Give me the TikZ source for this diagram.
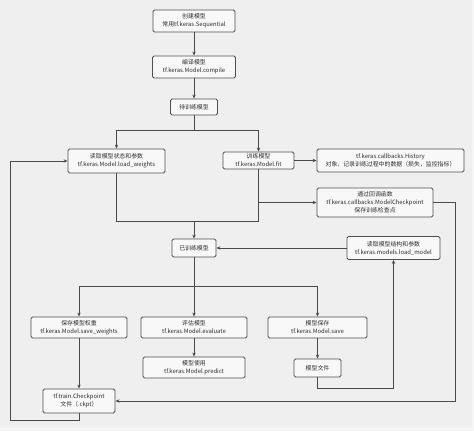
\documentclass[tikz,border=0pt]{standalone}
\usepackage{fontspec}
\newfontfamily\cjk{Noto Sans CJK SC}
\usetikzlibrary{arrows.meta,calc}
\definecolor{bgc}{HTML}{EFEFEF}
\definecolor{outc}{HTML}{F6F6F6}
\definecolor{boxfill}{HTML}{F8F8F8}
\definecolor{boxline}{HTML}{505050}
\definecolor{linec}{HTML}{4A4A4A}
\definecolor{txtc}{HTML}{2E2E2E}
\tikzset{
  flowbox/.style={draw=boxline, fill=boxfill, rounded corners=1.5pt, line width=0.85pt,
    inner sep=0pt, align=center, text=txtc, font=\cjk\fontsize{5.9}{8}\selectfont},
  conn/.style={draw=linec, line width=0.85pt},
  arr/.style={conn, -{Stealth[length=4pt,width=3.4pt]}}
}
\begin{document}
\begin{tikzpicture}[x=1pt,y=-1pt]
\fill[outc] (0,0) rectangle (474,431);
\fill[bgc] (0,0) rectangle (472,428);
\useasboundingbox (0,0) rectangle (474,431);

\node[flowbox, minimum width=82pt, minimum height=22pt] (n1) at (194,21) {创建模型\\常用tf.keras.Sequential};
\node[flowbox, minimum width=83pt, minimum height=22pt] (n2) at (194,67) {编译模型\\tf.keras.Model.compile};
\node[flowbox, minimum width=47pt, minimum height=16pt] (n3) at (194,107) {待训练模型};
\node[flowbox, minimum width=97pt, minimum height=24pt] (n4) at (116.5,161) {读取模型状态和参数\\tf.keras.Model.load\_weights};
\node[flowbox, minimum width=71pt, minimum height=17pt] (n5) at (258.5,160.5) {训练模型\\tf.keras.Model.fit};
\node[flowbox, minimum width=147pt, minimum height=23pt] (n6) at (390.5,160.5) {tf.keras.callbacks.History\\对象，记录训练过程中的数据（损失，监控指标）};
\node[flowbox, minimum width=116pt, minimum height=29pt] (n7) at (375,202.5) {通过回调函数\\tf.keras.callbacks.ModelCheckpoint\\保存训练检查点};
\node[flowbox, minimum width=44pt, minimum height=18pt] (n8) at (194,248) {已训练模型};
\node[flowbox, minimum width=93pt, minimum height=23pt] (n9) at (393.5,248) {读取模型结构和参数\\tf.keras.models.load\_model};
\node[flowbox, minimum width=96pt, minimum height=21pt] (n10) at (79,327.5) {保存模型权重\\tf.keras.Model.save\_weights};
\node[flowbox, minimum width=106pt, minimum height=21pt] (n11) at (194,327.5) {评估模型\\tf.keras.Model.evaluate};
\node[flowbox, minimum width=99pt, minimum height=21pt] (n12) at (317.5,327.5) {模型保存\\tf.keras.Model.save};
\node[flowbox, minimum width=102pt, minimum height=21pt] (n13) at (194,367.5) {模型使用\\tf.keras.Model.predict};
\node[flowbox, minimum width=47pt, minimum height=18pt] (n14) at (317.5,368) {模型文件};
\node[flowbox, minimum width=72pt, minimum height=24pt] (n15) at (79,401) {tf.train.Checkpoint\\文件（.ckpt）};

\coordinate (j1) at (194,130);
\coordinate (j2) at (258.5,221);
\coordinate (j3) at (194,221);
\coordinate (j4) at (194,286);
\coordinate (c1) at (455,401);
\coordinate (c2) at (393.5,388);
\coordinate (c3) at (10.5,420);
\coordinate (c4) at (10.5,161);

\draw[arr] (n1) -- (n2);
\draw[arr] (n2) -- (n3);
\draw[arr] (n3.south) -- (j1) -| (n4.north);
\draw[arr] (j1) -| (n5.north);
\draw[arr] (n5.east) -- (n5.east -| n6.west);
\draw[arr] (n5.south) |- (n7.west);
\draw[conn] (n5.south) -- (j2);
\draw[conn] (n4.south) |- (j2);
\draw[arr] (j3) -- (n8.north);
\draw[arr] (n9.west) -- (n9.west -| n8.east);
\draw[arr] (n7.east) -| (c1) -- (n15.east);
\draw[conn] (n8.south) -- (j4);
\draw[arr] (j4) -| (n10.north);
\draw[arr] (j4) -| (n12.north);
\draw[arr] (j4) -- (n11.north);
\draw[arr] (n11) -- (n13);
\draw[arr] (n12) -- (n14);
\draw[arr] (n10) -- (n15);
\draw[arr] (n14.south) |- (c2) -- (n9.south);
\draw[arr] (n15.south) |- (c3) -- (c4) -- (n4.west);
\end{tikzpicture}
\end{document}
